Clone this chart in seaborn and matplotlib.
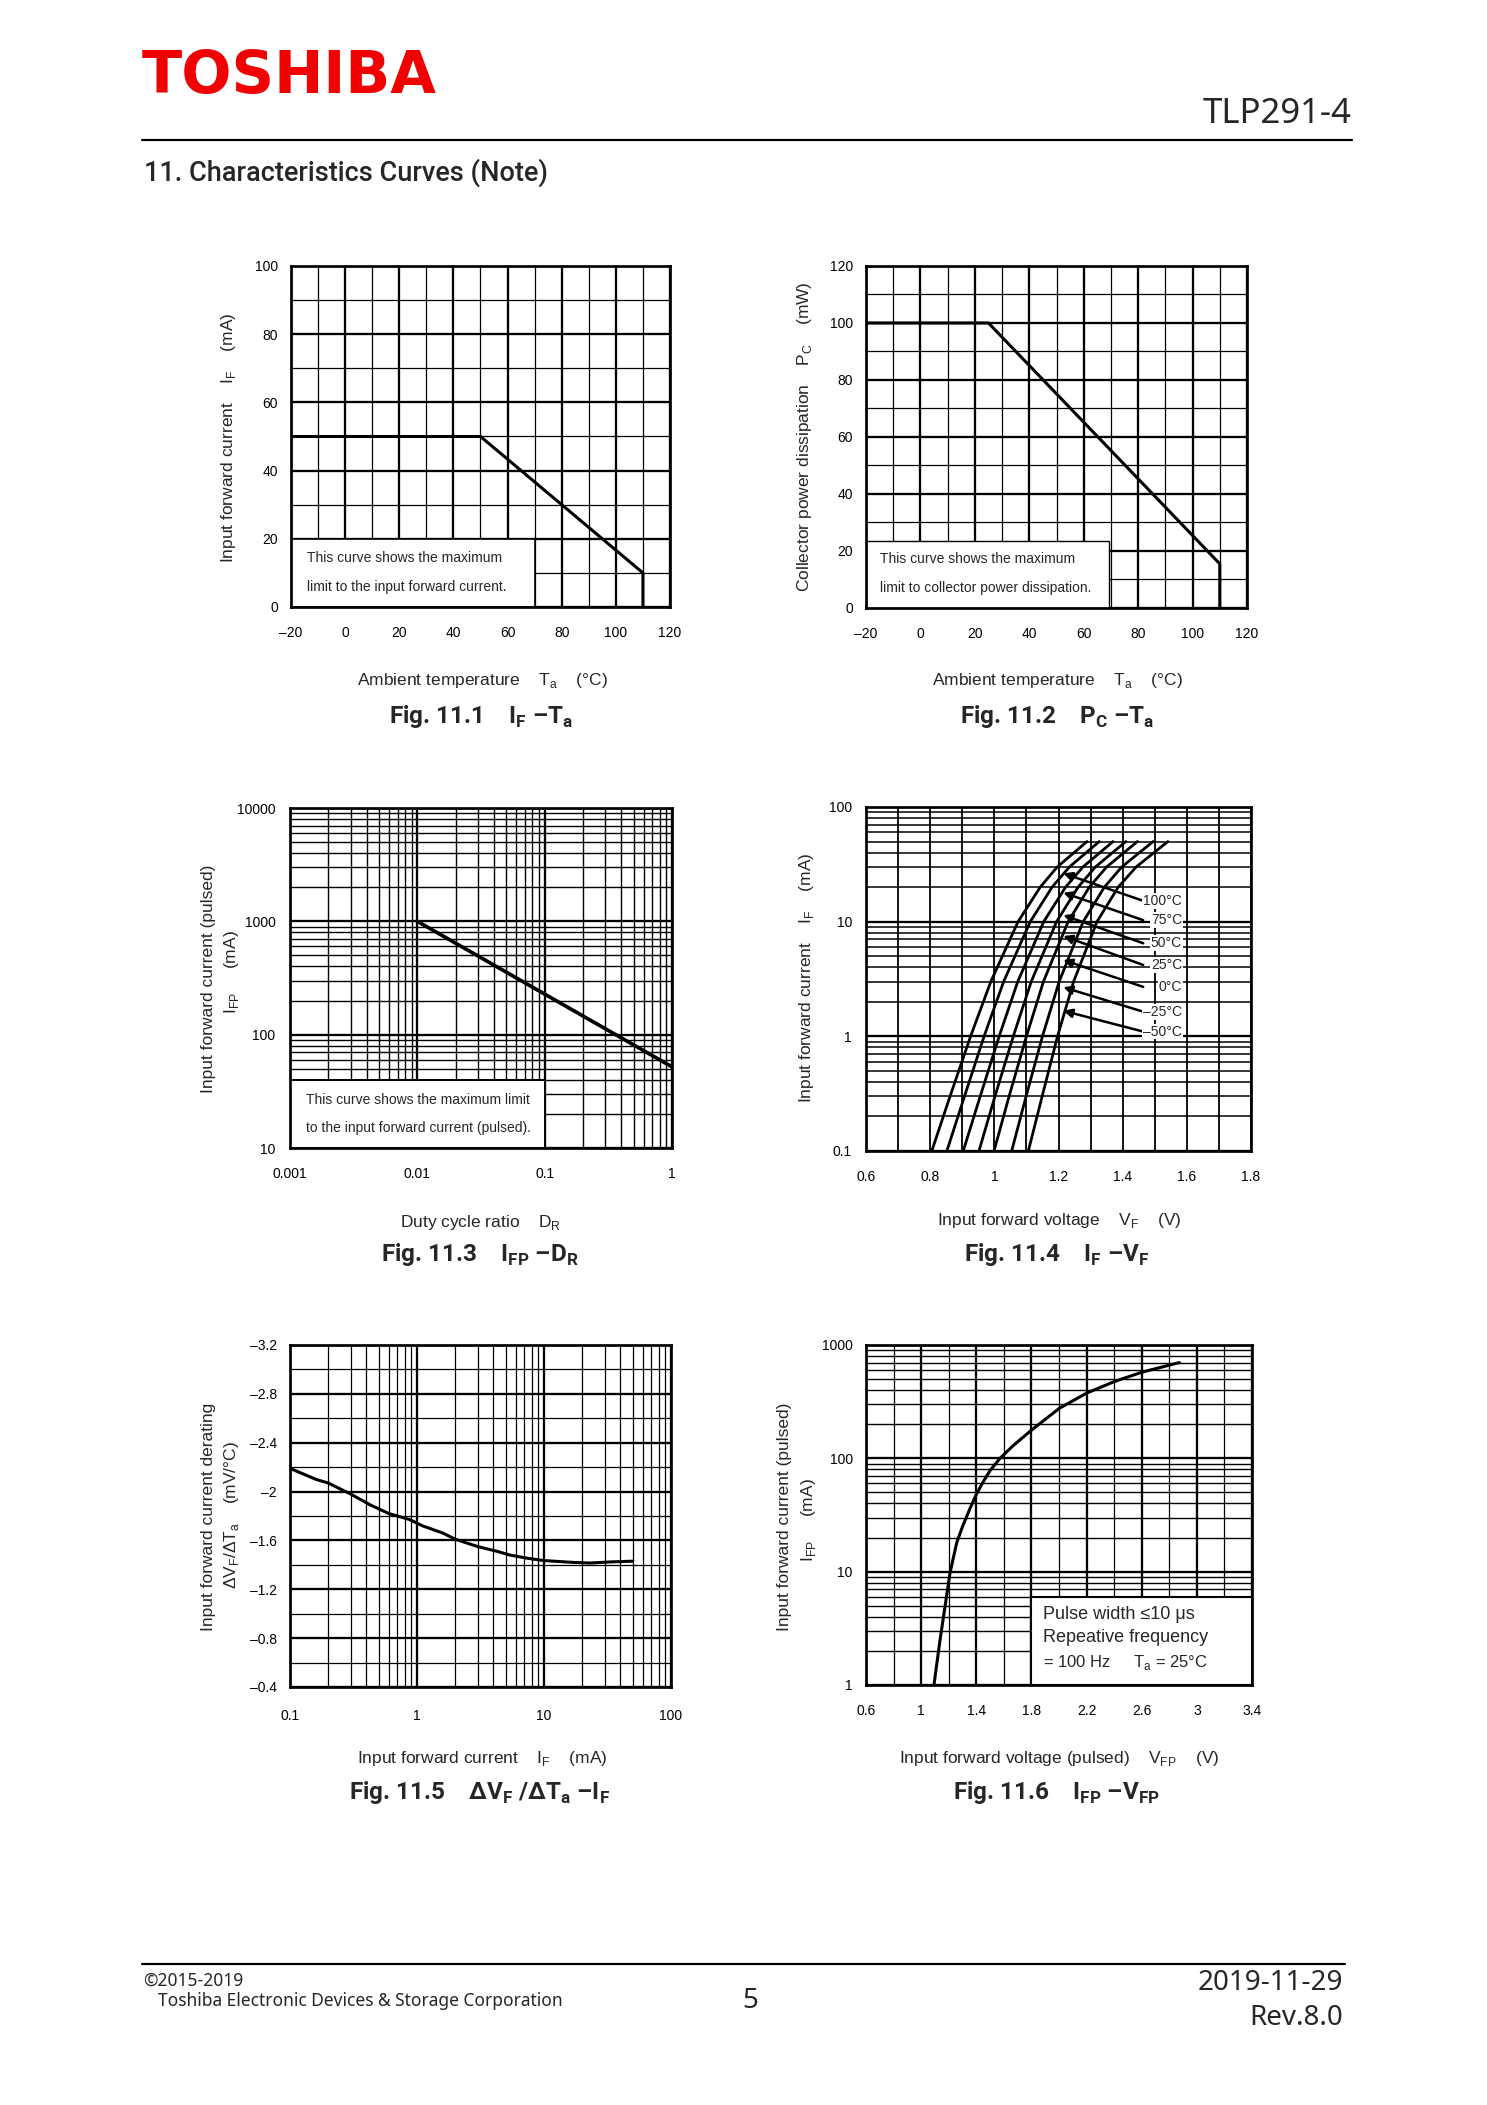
import numpy as np
import pandas as pd
import matplotlib
matplotlib.use("Agg")
import matplotlib.pyplot as plt
from matplotlib.lines import Line2D
from matplotlib.patches import Rectangle
from matplotlib.ticker import LogLocator, NullFormatter
import seaborn as sns

W, H = 1487, 2105

# ---- data ----
# Fig 11.1  IF - Ta
ta_if = [-20, 50, 110, 110]
if_max = [50, 50, 10, 0]

# Fig 11.2  PC - Ta
ta_pc = [-20, 25, 110, 110]
pc_max = [100, 100, 15.5, 0]

# Fig 11.3  IFP - DR
duty = [0.01, 0.1, 1.0]
ifp_duty = [1000, 228, 52]

# Fig 11.4  IF - VF (one list per temperature)
vf_temps = ["100°C", "75°C", "50°C", "25°C", "0°C", "–25°C", "–50°C"]
if_points = [0.1, 0.3, 1, 3, 10, 20, 30, 50]
vf_100 = [0.805, 0.862, 0.926, 0.989, 1.074, 1.143, 1.196, 1.289]
vf_75 = [0.852, 0.907, 0.968, 1.029, 1.112, 1.180, 1.234, 1.327]
vf_50 = [0.903, 0.956, 1.015, 1.073, 1.154, 1.222, 1.276, 1.370]
vf_25 = [0.952, 1.002, 1.059, 1.115, 1.194, 1.261, 1.315, 1.410]
vf_0 = [0.999, 1.046, 1.100, 1.153, 1.230, 1.296, 1.350, 1.446]
vf_m25 = [1.054, 1.099, 1.150, 1.202, 1.277, 1.343, 1.397, 1.495]
vf_m50 = [1.106, 1.149, 1.197, 1.247, 1.320, 1.386, 1.442, 1.541]
# label / arrow anchors (IF values) for the temperature callouts
label_if = [15.2, 10.3, 6.48, 4.19, 2.7, 1.64, 1.1]
arrow_tip_if = [26.4, 17.9, 11.4, 7.5, 4.63, 2.68, 1.67]

# Fig 11.5  dVF/dTa - IF
dvf_if = [0.1, 0.13, 0.16, 0.2, 0.3, 0.43, 0.6, 0.88, 1.1, 1.6, 2.0, 3.0,
          4.3, 5.4, 7.3, 10, 17, 23, 35, 50]
dvf_val = [-2.19, -2.14, -2.10, -2.07, -1.98, -1.89, -1.82, -1.77, -1.72, -1.66,
           -1.61, -1.55, -1.51, -1.48, -1.455, -1.435, -1.42, -1.415, -1.425, -1.43]

# Fig 11.6  IFP - VFP
vfp = [1.093, 1.137, 1.173, 1.209, 1.258, 1.30, 1.354, 1.40, 1.45, 1.50,
       1.572, 1.669, 1.802, 2.002, 2.2, 2.4, 2.6, 2.873]
ifp_vfp = [1.0, 2.5, 4.9, 9.7, 18, 25, 36, 48, 62, 78,
           100, 130, 178, 276, 376, 475, 575, 700]

sns.set_theme(style="white")
plt.rcParams["font.family"] = ["Liberation Sans", "DejaVu Sans"]
plt.rcParams["mathtext.fontset"] = "custom"
plt.rcParams["mathtext.rm"] = "Liberation Sans"

fig = plt.figure(figsize=(W / 100, H / 100), dpi=100)
fig.patch.set_facecolor("white")

PAGE_FONT = ["Noto Sans", "DejaVu Sans"]
CAP_FONT = ["Roboto", "Noto Sans", "DejaVu Sans"]
THICK, THIN, CURVE = 1.65, 0.9, 2.2


def px_axes(x0, y0, x1, y1):
    return fig.add_axes([x0 / W, 1 - y1 / H, (x1 - x0) / W, (y1 - y0) / H])


def ftext(x, y, s, **kw):
    fig.text(x / W, 1 - y / H, s, **kw)


def frame(ax, xpad=14, ypad=9.5):
    for s in ax.spines.values():
        s.set_visible(True)
        s.set_linewidth(1.95)
        s.set_color("black")
        s.set_zorder(5)
    ax.set_axisbelow(True)
    ax.tick_params(which="both", length=0, labelsize=10, colors="black")
    ax.tick_params(axis="x", pad=xpad)
    ax.tick_params(axis="y", pad=ypad)
    ax.set_xlabel("")
    ax.set_ylabel("")


def grid(ax, axis, which, lw):
    getattr(ax, axis + "axis").grid(True, which=which, color="black",
                                    linewidth=lw, linestyle="-")


def note_box(ax, x0, y0, x1, y1, lw=1.2):
    ax.add_patch(Rectangle((x0, y0), x1 - x0, y1 - y0, facecolor="white",
                           edgecolor="black", lw=lw, zorder=2.1))


def labels(xl_pos, xl, yl_pos, yl, cap_pos, cap):
    ftext(*xl_pos, xl, ha="center", va="center", fontsize=12.5)
    for (x, y), s in zip(yl_pos, yl):
        ftext(x, y, s, ha="center", va="center", rotation=90, fontsize=12.5)
    ftext(*cap_pos, cap, ha="center", va="center", fontsize=17.5,
          fontweight="bold", family=CAP_FONT)


dash = "–"

# ---------------- Fig 11.1 ----------------
ax = px_axes(291, 266, 670, 607)
sns.lineplot(x=ta_if, y=if_max, ax=ax, color="black", lw=CURVE,
             sort=False, estimator=None, zorder=3)
ax.set_xlim(-20, 120)
ax.set_ylim(0, 100)
ax.set_xticks(range(-20, 121, 20))
ax.set_xticklabels([f"{v}".replace("-", dash) for v in range(-20, 121, 20)])
ax.set_xticks(range(-10, 120, 20), minor=True)
ax.set_yticks(range(0, 101, 20))
ax.set_yticks(range(10, 100, 20), minor=True)
frame(ax)
grid(ax, "x", "major", THICK); grid(ax, "x", "minor", THIN)
grid(ax, "y", "major", THICK); grid(ax, "y", "minor", THIN)
note_box(ax, -20, 0, 70, 20)
ax.text(-14.1, 14.4, "This curve shows the maximum", fontsize=10, va="center", zorder=4)
ax.text(-14.1, 5.9, "limit to the input forward current.", fontsize=10, va="center", zorder=4)
labels((482, 680), r"Ambient temperature    T$_\mathregular{a}$    (°C)",
       [(228, 438)], [r"Input forward current    I$_\mathregular{F}$    (mA)"],
       (481, 717), r"Fig. 11.1    I$_\mathregular{F}$ –T$_\mathregular{a}$")

# ---------------- Fig 11.2 ----------------
ax = px_axes(866, 266, 1247, 608)
sns.lineplot(x=ta_pc, y=pc_max, ax=ax, color="black", lw=CURVE,
             sort=False, estimator=None, zorder=3)
ax.set_xlim(-20, 120)
ax.set_ylim(0, 120)
ax.set_xticks(range(-20, 121, 20))
ax.set_xticklabels([f"{v}".replace("-", dash) for v in range(-20, 121, 20)])
ax.set_xticks(range(-10, 120, 20), minor=True)
ax.set_yticks(range(0, 121, 20))
ax.set_yticks(range(10, 120, 20), minor=True)
frame(ax)
grid(ax, "x", "major", THICK); grid(ax, "x", "minor", THIN)
grid(ax, "y", "major", THICK); grid(ax, "y", "minor", THIN)
note_box(ax, -20, 0, 69.3, 23.6, lw=1.0)
ax.text(-14.9, 17.1, "This curve shows the maximum", fontsize=10, va="center", zorder=4)
ax.text(-14.9, 7.1, "limit to collector power dissipation.", fontsize=10, va="center", zorder=4)
labels((1057, 680), r"Ambient temperature    T$_\mathregular{a}$    (°C)",
       [(805, 437)], [r"Collector power dissipation    P$_\mathregular{C}$    (mW)"],
       (1057, 717), r"Fig. 11.2    P$_\mathregular{C}$ –T$_\mathregular{a}$")

# ---------------- Fig 11.3 ----------------
ax = px_axes(290, 808, 672, 1148)
ax.set_xscale("log")
ax.set_yscale("log")
sns.lineplot(x=duty, y=ifp_duty, ax=ax, color="black", lw=CURVE * 1.2,
             sort=False, estimator=None, zorder=3)
ax.set_xlim(0.001, 1)
ax.set_ylim(10, 10000)
ax.set_xticks([0.001, 0.01, 0.1, 1])
ax.set_xticklabels(["0.001", "0.01", "0.1", "1"])
ax.set_yticks([10, 100, 1000, 10000])
ax.set_yticklabels(["10", "100", "1000", "10000"])
for a in (ax.xaxis, ax.yaxis):
    a.set_minor_locator(LogLocator(base=10, subs=np.arange(2, 10)))
    a.set_minor_formatter(NullFormatter())
frame(ax, ypad=10.5)
grid(ax, "x", "major", THICK); grid(ax, "x", "minor", 1.0)
grid(ax, "y", "major", THICK); grid(ax, "y", "minor", 1.0)
note_box(ax, 0.001, 10, 0.1, 40, lw=1.4)
ax.text(0.00134, 26.5, "This curve shows the maximum limit", fontsize=10, va="center", zorder=4)
ax.text(0.00134, 14.9, "to the input forward current (pulsed).", fontsize=10, va="center", zorder=4)
labels((481, 1222), r"Duty cycle ratio    D$_\mathregular{R}$",
       [(208, 979), (232, 972)],
       ["Input forward current (pulsed)", r"I$_\mathregular{FP}$     (mA)"],
       (480, 1255), r"Fig. 11.3    I$_\mathregular{FP}$ –D$_\mathregular{R}$")

# ---------------- Fig 11.4 ----------------
ax = px_axes(866, 807, 1251, 1151)
ax.set_yscale("log")
vf_df = pd.DataFrame({
    "IF": if_points * 7,
    "VF": vf_100 + vf_75 + vf_50 + vf_25 + vf_0 + vf_m25 + vf_m50,
    "Ta": np.repeat(vf_temps, len(if_points)),
})
sns.lineplot(data=vf_df, x="VF", y="IF", hue="Ta", palette=["black"] * 7,
             legend=False, ax=ax, lw=2.0, sort=False, estimator=None, zorder=3)
ax.set_xlim(0.6, 1.8)
ax.set_ylim(0.1, 100)
ax.set_xticks([0.6, 0.8, 1.0, 1.2, 1.4, 1.6, 1.8])
ax.set_xticklabels(["0.6", "0.8", "1", "1.2", "1.4", "1.6", "1.8"])
ax.set_xticks([0.7, 0.9, 1.1, 1.3, 1.5, 1.7], minor=True)
ax.set_yticks([0.1, 1, 10, 100])
ax.set_yticklabels(["0.1", "1", "10", "100"])
ax.yaxis.set_minor_locator(LogLocator(base=10, subs=np.arange(2, 10)))
ax.yaxis.set_minor_formatter(NullFormatter())
frame(ax, ypad=10)
grid(ax, "x", "major", 1.3); grid(ax, "x", "minor", 1.3)
grid(ax, "y", "major", THICK); grid(ax, "y", "minor", 1.1)
for name, ly, ty in zip(vf_temps, label_if, arrow_tip_if):
    ax.annotate("", xy=(1.215, ty), xytext=(1.464, ly),
                arrowprops=dict(arrowstyle="-|>", color="black", lw=1.8,
                                mutation_scale=13, shrinkA=0, shrinkB=0),
                zorder=4)
    ax.text(1.585, ly, name, ha="right", va="center", fontsize=10, zorder=5,
            bbox=dict(facecolor="white", edgecolor="none", pad=0.6))
labels((1059, 1221), r"Input forward voltage    V$_\mathregular{F}$    (V)",
       [(807, 978)], [r"Input forward current    I$_\mathregular{F}$    (mA)"],
       (1057, 1254), r"Fig. 11.4    I$_\mathregular{F}$ –V$_\mathregular{F}$")

# ---------------- Fig 11.5 ----------------
ax = px_axes(290, 1345, 671, 1687)
ax.set_xscale("log")
sns.lineplot(x=dvf_if, y=dvf_val, ax=ax, color="black", lw=CURVE,
             sort=False, estimator=None, zorder=3)
ax.set_xlim(0.1, 100)
ax.set_ylim(-0.4, -3.2)
ax.set_xticks([0.1, 1, 10, 100])
ax.set_xticklabels(["0.1", "1", "10", "100"])
ax.xaxis.set_minor_locator(LogLocator(base=10, subs=np.arange(2, 10)))
ax.xaxis.set_minor_formatter(NullFormatter())
yt = [-3.2, -2.8, -2.4, -2.0, -1.6, -1.2, -0.8, -0.4]
ax.set_yticks(yt)
ax.set_yticklabels([dash + f"{abs(v):g}" for v in yt])
ax.set_yticks([-3.0, -2.6, -2.2, -1.8, -1.4, -1.0, -0.6], minor=True)
frame(ax, xpad=16, ypad=9.5)
grid(ax, "x", "major", THICK); grid(ax, "x", "minor", THIN)
grid(ax, "y", "major", THICK); grid(ax, "y", "minor", THIN)
labels((482, 1758), r"Input forward current    I$_\mathregular{F}$    (mA)",
       [(208, 1517), (232, 1515)],
       ["Input forward current derating",
        r"ΔV$_\mathregular{F}$/ΔT$_\mathregular{a}$    (mV/°C)"],
       (480, 1793), r"Fig. 11.5    ΔV$_\mathregular{F}$ /ΔT$_\mathregular{a}$ –I$_\mathregular{F}$")

# ---------------- Fig 11.6 ----------------
ax = px_axes(866, 1345, 1252, 1685)
ax.set_yscale("log")
sns.lineplot(x=vfp, y=ifp_vfp, ax=ax, color="black", lw=CURVE,
             sort=False, estimator=None, zorder=3)
ax.set_xlim(0.6, 3.4)
ax.set_ylim(1, 1000)
xt = [0.6, 1.0, 1.4, 1.8, 2.2, 2.6, 3.0, 3.4]
ax.set_xticks(xt)
ax.set_xticklabels([f"{v:g}" for v in xt])
ax.set_xticks([0.8, 1.2, 1.6, 2.0, 2.4, 2.8, 3.2], minor=True)
ax.set_yticks([1, 10, 100, 1000])
ax.set_yticklabels(["1", "10", "100", "1000"])
ax.yaxis.set_minor_locator(LogLocator(base=10, subs=np.arange(2, 10)))
ax.yaxis.set_minor_formatter(NullFormatter())
frame(ax, ypad=9.5)
grid(ax, "x", "major", THICK); grid(ax, "x", "minor", THIN)
grid(ax, "y", "major", THICK); grid(ax, "y", "minor", 1.0)
note_box(ax, 1.8, 1, 3.4, 6, lw=1.5)
ax.text(1.886, 4.23, "Pulse width ≤10 μs", fontsize=13, va="center", zorder=4)
ax.text(1.886, 2.61, "Repeative frequency", fontsize=13, va="center", zorder=4)
ax.text(1.886, 1.57, r"= 100 Hz     T$_\mathregular{a}$ = 25°C", fontsize=12,
        va="center", zorder=4)
labels((1059, 1758), r"Input forward voltage (pulsed)    V$_\mathregular{FP}$    (V)",
       [(785, 1517), (808, 1520)],
       ["Input forward current (pulsed)", r"I$_\mathregular{FP}$     (mA)"],
       (1057, 1793), r"Fig. 11.6    I$_\mathregular{FP}$ –V$_\mathregular{FP}$")

# ---------------- page header / footer ----------------
ftext(142, 77, "TOSHIBA", ha="left", va="center", fontsize=42.5, fontweight="bold",
      color="#f00000", family=["DejaVu Sans"])
ftext(1352, 114, "TLP291-4", ha="right", va="center", fontsize=25, family=PAGE_FONT)
fig.add_artist(Line2D([142 / W, 1352 / W], [1 - 140 / H] * 2,
                      transform=fig.transFigure, color="black", lw=1.6))
ftext(144, 173, "11. Characteristics Curves (Note)", ha="left", va="center",
      fontsize=19.5, fontweight="medium", family=CAP_FONT)

fig.add_artist(Line2D([142 / W, 1345 / W], [1 - 1964 / H] * 2,
                      transform=fig.transFigure, color="black", lw=1.6))
ftext(143, 1981, "©2015-2019", ha="left", va="center", fontsize=12.5, family=PAGE_FONT)
ftext(158, 2001, "Toshiba Electronic Devices & Storage Corporation", ha="left",
      va="center", fontsize=12.5, family=PAGE_FONT)
ftext(750, 2001, "5", ha="center", va="center", fontsize=20, family=PAGE_FONT)
ftext(1343, 1983, "2019-11-29", ha="right", va="center", fontsize=20, family=PAGE_FONT)
ftext(1343, 2018, "Rev.8.0", ha="right", va="center", fontsize=20, family=PAGE_FONT)

fig.savefig("out.png", dpi=100, facecolor="white")
